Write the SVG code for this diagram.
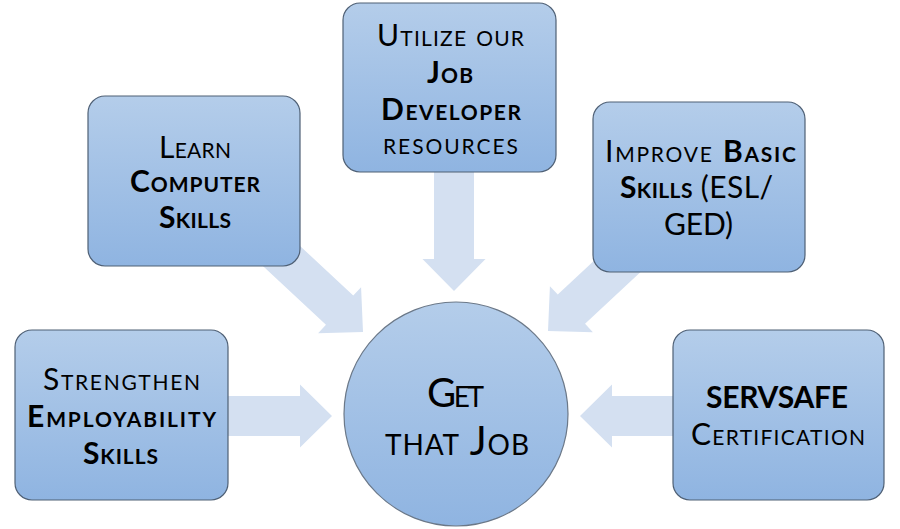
<svg xmlns="http://www.w3.org/2000/svg" width="900" height="529" viewBox="0 0 900 529">
<defs>
<linearGradient id="g" x1="0" y1="0" x2="0" y2="1">
<stop offset="0" stop-color="#B4CDEA"/>
<stop offset="1" stop-color="#8FB4E1"/>
</linearGradient>
<path id="arr" d="M0,0 L-32,-31.5 L-32,-20 L-140,-20 L-140,20 L-32,20 L-32,31.5 Z"/>
<style>
.box{fill:url(#g);stroke:#4F6075;stroke-width:1.2}
.arrow{fill:#D4E0F1}
text{font-family:Lato,"Open Sans","Liberation Sans",sans-serif;font-size:30px;fill:#000;text-anchor:middle;font-variant:small-caps}
.b{font-weight:bold}
.big{font-size:40px}
</style>
</defs>
<g id="connectors" class="arrow">
<path d="M332,416 L300,384.5 L300,396 L220,396 L220,436 L300,436 L300,447.5 Z"/>
<path d="M580,416 L612,384.5 L612,396 L690,396 L690,436 L612,436 L612,447.5 Z"/>
<path d="M454,291 L422.5,259 L434,259 L434,160 L474,160 L474,259 L485.5,259 Z"/>
<use href="#arr" transform="translate(363,332) rotate(43)"/>
<use href="#arr" transform="translate(548,331) rotate(137)"/>
</g>
<g id="node-learn">
<rect class="box" x="88" y="96" width="212" height="170" rx="17"/>
<text x="195" y="158" textLength="72" lengthAdjust="spacing">Learn</text>
<text x="195" y="192" class="b" textLength="130" lengthAdjust="spacing">Computer</text>
<text x="195" y="228" class="b" textLength="72" lengthAdjust="spacing">Skills</text>
</g>
<g id="node-utilize">
<rect class="box" x="343" y="3" width="213" height="169" rx="17"/>
<text x="450.5" y="46" textLength="147" lengthAdjust="spacing">Utilize our</text>
<text x="450" y="83" class="b" textLength="46" lengthAdjust="spacing">Job</text>
<text x="451" y="120" class="b" textLength="140" lengthAdjust="spacing">Developer</text>
<text x="450.5" y="154" textLength="135" lengthAdjust="spacing">resources</text>
</g>
<g id="node-improve">
<rect class="box" x="593" y="102" width="212" height="170" rx="17"/>
<text x="700.5" y="162" textLength="191" lengthAdjust="spacing">Improve <tspan class="b">Basic</tspan></text>
<text x="696.5" y="198" textLength="153" lengthAdjust="spacing"><tspan class="b">Skills</tspan> (ESL/</text>
<text x="698.5" y="235" textLength="69" lengthAdjust="spacing">GED)</text>
</g>
<g id="node-strengthen">
<rect class="box" x="15" y="330" width="213" height="170" rx="17"/>
<text x="121.5" y="390" textLength="157" lengthAdjust="spacing">Strengthen</text>
<text x="121.5" y="427" class="b" textLength="189" lengthAdjust="spacing">Employability</text>
<text x="120.5" y="464" class="b" textLength="75" lengthAdjust="spacing">Skills</text>
</g>
<g id="node-servsafe">
<rect class="box" x="673" y="330" width="211" height="170" rx="17"/>
<text x="777" y="408" class="b" textLength="142" lengthAdjust="spacing">SERVSAFE</text>
<text x="778" y="445" textLength="174" lengthAdjust="spacing">Certification</text>
</g>
<g id="node-getjob">
<circle class="box" cx="456" cy="414" r="112" style="stroke:#6B7888"/>
<text x="455.5" y="407" class="big" textLength="57" lengthAdjust="spacing">Get</text>
<text x="457" y="455" class="big" textLength="144" lengthAdjust="spacing">that Job</text>
</g>
</svg>
